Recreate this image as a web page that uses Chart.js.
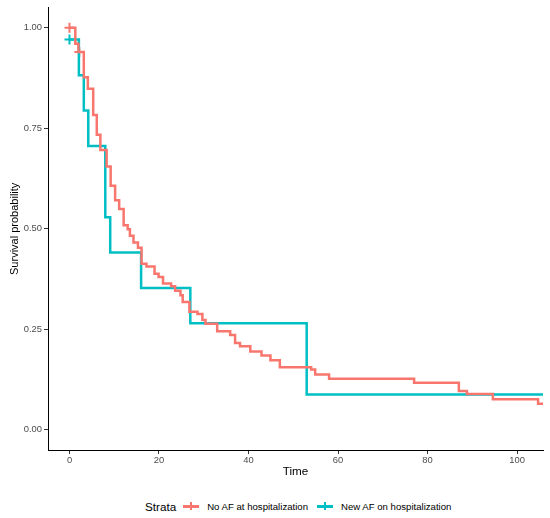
<!DOCTYPE html>
<html>
<head>
<meta charset="utf-8">
<script src="https://cdn.jsdelivr.net/npm/chart.js@4"></script>
<style>
  body { margin: 0; background: #fff; font-family: "Liberation Sans", Arial, sans-serif; }
  #wrap { position: relative; width: 550px; height: 518px; }
  #legend { position: absolute; left: 145px; top: 497px; height: 18px; display: flex; align-items: center; white-space: nowrap; }
  #legend .title { font-size: 11.7px; color: #000; margin-right: 7px; }
  #legend .key { position: relative; width: 16px; height: 14px; margin-right: 8px; }
  #legend .key::before { content: ""; position: absolute; left: 0; right: 0; top: 6px; height: 2.5px; background: var(--c); }
  #legend .key::after { content: ""; position: absolute; left: 7px; top: 3px; width: 2px; height: 8px; background: var(--c); }
  #legend .lab { font-size: 9.6px; color: #000; margin-right: 9px; }
</style>
</head>
<body>
<div id="wrap">
  <canvas id="chart" width="550" height="490"></canvas>
  <div id="legend">
    <span class="title">Strata</span>
    <span class="key" style="--c:#F8766D"></span><span class="lab">No AF at hospitalization</span>
    <span class="key" style="--c:#00BFC4"></span><span class="lab">New AF on hospitalization</span>
  </div>
</div>
<script>
// Kaplan-Meier curve: time of each step and survival after it
const noAfTimes = [0, 1.3, 2.0, 3.2, 4.1, 5.3, 6.1, 6.9, 8.3, 9.2, 10.2, 11.1, 12.1, 13.0, 13.5, 14.3, 15.3,
  16.1, 17.2, 19.0, 19.9, 20.9, 22.7, 23.6, 24.8, 25.3, 26.8, 28.6, 29.7, 30.4, 33.0, 35.9, 37.0, 38.1,
  40.4, 42.9, 44.9, 47.0, 54.0, 54.9, 58.0, 77.0, 87.0, 88.8, 94.6, 104.7, 105.8];
const noAfSurv = [1.000, 0.960, 0.940, 0.877, 0.848, 0.783, 0.734, 0.696, 0.655, 0.607, 0.571, 0.549, 0.509, 0.499, 0.483, 0.466, 0.453,
  0.413, 0.406, 0.388, 0.380, 0.364, 0.357, 0.346, 0.335, 0.318, 0.294, 0.288, 0.273, 0.264, 0.245, 0.236, 0.216, 0.208,
  0.195, 0.185, 0.173, 0.156, 0.150, 0.138, 0.127, 0.117, 0.097, 0.089, 0.076, 0.065, 0.065];

const newAfTimes = [0, 2.1, 3.2, 4.2, 8.0, 9.1, 16.0, 27.0, 53.0, 105.8];
const newAfSurv = [0.971, 0.882, 0.794, 0.706, 0.529, 0.441, 0.353, 0.265, 0.088, 0.088];

// censor marks
const noAfCensorTimes = [0, 2.2];
const noAfCensorSurv = [1.000, 0.940];
const newAfCensorTimes = [0];
const newAfCensorSurv = [0.971];

const xTicks = [0, 20, 40, 60, 80, 100];
const yTicks = [0, 0.25, 0.5, 0.75, 1];

const red = "#F8766D";
const teal = "#00BFC4";

function pts(xs, ys) {
  return xs.map((x, i) => ({ x: x, y: ys[i] }));
}

const ctx = document.getElementById("chart").getContext("2d");

new Chart(ctx, {
  data: {
    datasets: [
      {
        type: "line",
        label: "No AF at hospitalization",
        data: pts(noAfTimes, noAfSurv),
        stepped: "before",
        borderColor: red,
        borderWidth: 2.5,
        pointRadius: 0,
        fill: false
      },
      {
        type: "line",
        label: "New AF on hospitalization",
        data: pts(newAfTimes, newAfSurv),
        stepped: "before",
        borderColor: teal,
        borderWidth: 2.5,
        pointRadius: 0,
        fill: false
      },
      {
        type: "scatter",
        data: pts(noAfCensorTimes, noAfCensorSurv),
        pointStyle: "cross",
        pointRadius: 5,
        borderColor: red,
        borderWidth: 2
      },
      {
        type: "scatter",
        data: pts(newAfCensorTimes, newAfCensorSurv),
        pointStyle: "cross",
        pointRadius: 5,
        borderColor: teal,
        borderWidth: 2
      }
    ]
  },
  options: {
    responsive: false,
    animation: false,
    layout: { padding: { top: 4, right: 0, left: 0, bottom: 0 } },
    plugins: { legend: { display: false }, tooltip: { enabled: false } },
    scales: {
      x: {
        type: "linear",
        min: -4.8,
        max: 105.8,
        afterBuildTicks: s => { s.ticks = xTicks.map(v => ({ value: v })); },
        afterFit: s => { s.height = 40; },
        grid: { drawOnChartArea: false, drawTicks: true, tickLength: 4, color: "#333" },
        border: { display: true, color: "#000", width: 1 },
        ticks: { color: "#4D4D4D", font: { family: "Liberation Sans", size: 9.4 }, padding: 1, maxRotation: 0 },
        title: { display: true, text: "Time", color: "#000", font: { family: "Liberation Sans", size: 11.7 }, padding: { top: 0, bottom: 11 } }
      },
      y: {
        type: "linear",
        min: -0.05,
        max: 1.05,
        afterBuildTicks: s => { s.ticks = yTicks.map(v => ({ value: v })); },
        afterFit: s => { s.width = 48; },
        grid: { drawOnChartArea: false, drawTicks: true, tickLength: 4, color: "#333" },
        border: { display: true, color: "#000", width: 1 },
        ticks: { color: "#4D4D4D", font: { family: "Liberation Sans", size: 9.4 }, padding: 2, callback: v => v.toFixed(2) },
        title: { display: true, text: "Survival probability", color: "#000", font: { family: "Liberation Sans", size: 11 }, padding: { top: 8, bottom: 0 } }
      }
    }
  }
});
</script>
</body>
</html>
